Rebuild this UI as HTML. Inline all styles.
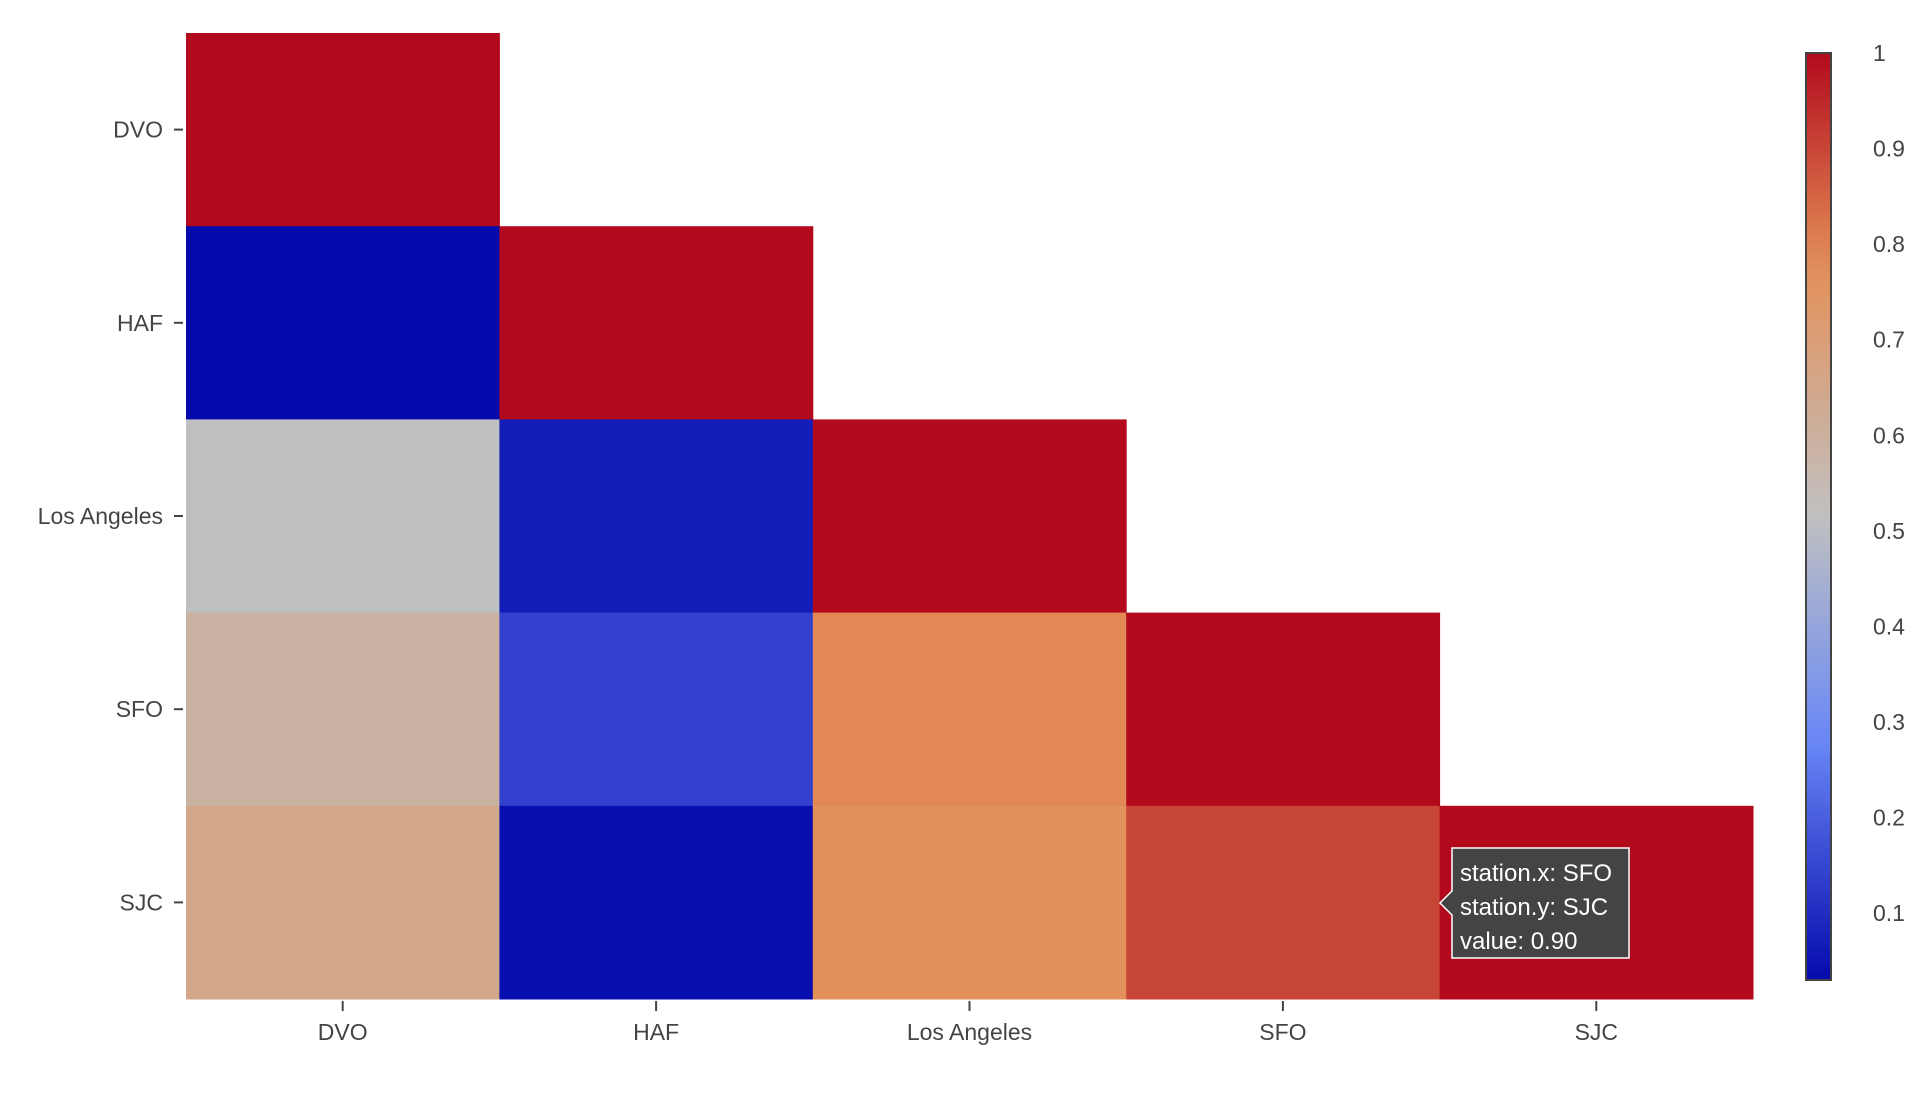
<!DOCTYPE html>
<html><head><meta charset="utf-8"><style>
html,body{margin:0;padding:0;background:#fff;width:1932px;height:1104px;overflow:hidden}
text{font-family:"Liberation Sans",sans-serif}
</style></head><body>
<svg id="chart" width="1932" height="1104" xmlns="http://www.w3.org/2000/svg">
<defs><linearGradient id="cbgrad" x1="0" y1="1" x2="0" y2="0"></linearGradient></defs>
<g id="cells"></g><g id="axes"></g><g id="cbar"></g><g id="tip"></g>
</svg>
<script>
const stations = ["DVO","HAF","Los Angeles","SFO","SJC"];
// rows (y) x columns (x); null = masked upper triangle
const rowDVO = [1.00, null, null, null, null];
const rowHAF = [0.03, 1.00, null, null, null];
const rowLA  = [0.51, 0.065, 1.00, null, null];
const rowSFO = [0.59, 0.14, 0.79, 1.00, null];
const rowSJC = [0.65, 0.04, 0.77, 0.90, 1.00];
const values = [rowDVO,rowHAF,rowLA,rowSFO,rowSJC];
const cbTicks = [0.1,0.2,0.3,0.4,0.5,0.6,0.7,0.8,0.9,1];
const cmin = 0.03, cmax = 1.0;

const NS="http://www.w3.org/2000/svg";
const L=186,R=1753,T=33,B=999;
const cw=(R-L)/stations.length, ch=(B-T)/stations.length;
const xPos=i=>L+i*cw, yPos=j=>T+j*ch;
const stops=[[0,[5,10,172]],[0.26,[106,137,247]],[0.5,[192,192,192]],[0.77,[228,144,88]],[1,[178,10,28]]];
function color(v){
  let t=Math.max(0,Math.min(1,(v-cmin)/(cmax-cmin)));
  for(let k=1;k<stops.length;k++){
    if(t<=stops[k][0]){
      const a=stops[k-1],b=stops[k],f=(t-a[0])/(b[0]-a[0]);
      return 'rgb('+a[1].map((c,i)=>Math.round(c+(b[1][i]-c)*f)).join(',')+')';
    }
  }
  return 'rgb(178,10,28)';
}
function mk(tag,attrs,parent,txt){
  const e=document.createElementNS(NS,tag);
  for(const k in attrs)e.setAttribute(k,attrs[k]);
  if(txt!==undefined)e.textContent=txt;
  parent.appendChild(e);return e;
}
const cells=document.getElementById('cells');
values.forEach((row,j)=>row.forEach((v,i)=>{
  if(v===null)return;
  const r=mk('rect',{x:xPos(i),y:yPos(j),width:cw+0.5,height:ch+0.5,fill:color(v)},cells);
  
  
}));
const axes=document.getElementById('axes');
stations.forEach((s,i)=>{
  const cx=xPos(i)+cw/2;
  mk('line',{x1:cx,x2:cx,y1:1001,y2:1011,stroke:'#444','stroke-width':2},axes);
  const t=mk('text',{x:cx,y:1040,'text-anchor':'middle','font-size':23,fill:'#444'},axes,s);
  
  
  const cy=yPos(i)+ch/2;
  mk('line',{x1:174,x2:183,y1:cy,y2:cy,stroke:'#444','stroke-width':2},axes);
  const u=mk('text',{x:163,y:cy+8,'text-anchor':'end','font-size':23,fill:'#444'},axes,s);
  
  
});
// colorbar
const g=document.getElementById('cbgrad');
for(let k=0;k<=20;k++){const t=k/20;mk('stop',{offset:t,'stop-color':color(cmin+t*(cmax-cmin))},g);}
const cb=document.getElementById('cbar');
const cbT=53,cbB=980,cbyPos=v=>cbB-(v-cmin)/(cmax-cmin)*(cbB-cbT);
const bar=mk('rect',{x:1806,y:cbT,width:25,height:cbB-cbT,fill:'url(#cbgrad)',stroke:'#444','stroke-width':2},cb);


cbTicks.forEach(v=>{
  const t=mk('text',{x:1873,y:cbyPos(v)+8,'font-size':23,fill:'#444'},cb,String(v));
  
  
});
// tooltip
const tip=document.getElementById('tip');


mk('path',{d:'M1452,848 H1629 V958 H1452 V915 L1440,903 L1452,891 Z',fill:'#444',stroke:'#fff','stroke-width':1.5},tip);
['station.x: SFO','station.y: SJC','value: 0.90'].forEach((s,k)=>{
  mk('text',{x:1460,y:881+k*34,'font-size':24,fill:'#fff'},tip,s);
});
</script>
</body></html>
